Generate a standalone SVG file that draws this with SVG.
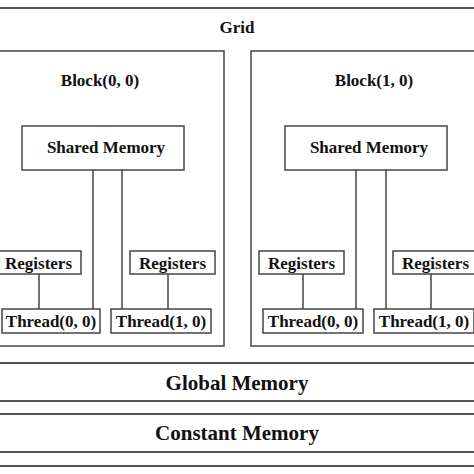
<svg xmlns="http://www.w3.org/2000/svg" width="474" height="474" viewBox="0 0 474 474">
<style>
.bx{fill:#fff;stroke:#444;stroke-width:1.5}
.band{fill:#fff;stroke:#555;stroke-width:2}
.ln{stroke:#444;stroke-width:1.5;fill:none}
text{font-family:"Liberation Serif","Times New Roman",serif;font-weight:bold;fill:#111;text-anchor:middle}
.s{font-size:17px}
.l{font-size:21px}
</style>
<rect width="474" height="474" fill="#fff"/>
<g id="grid"><rect class="band" x="-5" y="8" width="484" height="500"/><text class="s" x="237" y="33">Grid</text></g>
<g id="block00"><rect class="bx" x="-5" y="51" width="229" height="295"/><text class="s" x="100" y="86">Block(0, 0)</text></g>
<g id="block10"><rect class="bx" x="251" y="51" width="228" height="295"/><text class="s" x="374" y="86">Block(1, 0)</text></g>
<g id="connectors">
<line class="ln" x1="93" y1="170" x2="93" y2="309"/>
<line class="ln" x1="122" y1="170" x2="122" y2="309"/>
<line class="ln" x1="39" y1="274" x2="39" y2="309"/>
<line class="ln" x1="168" y1="274" x2="168" y2="309"/>
<line class="ln" x1="356" y1="170" x2="356" y2="309"/>
<line class="ln" x1="386" y1="170" x2="386" y2="309"/>
<line class="ln" x1="303" y1="274" x2="303" y2="309"/>
<line class="ln" x1="431" y1="274" x2="431" y2="309"/>
</g>
<g id="shared0"><rect class="bx" x="22" y="126" width="162" height="44"/><text class="s" x="106" y="153">Shared Memory</text></g>
<g id="shared1"><rect class="bx" x="285" y="126" width="162" height="44"/><text class="s" x="369" y="153">Shared Memory</text></g>
<g id="reg00"><rect class="bx" x="-4" y="251" width="85" height="23"/><text class="s" x="38.5" y="269">Registers</text></g>
<g id="reg01"><rect class="bx" x="130" y="251" width="85" height="23"/><text class="s" x="172.5" y="269">Registers</text></g>
<g id="reg10"><rect class="bx" x="259" y="251" width="85" height="23"/><text class="s" x="301.5" y="269">Registers</text></g>
<g id="reg11"><rect class="bx" x="393" y="251" width="85" height="23"/><text class="s" x="435.5" y="269">Registers</text></g>
<g id="th00"><rect class="bx" x="2" y="309" width="98" height="24"/><text class="s" x="51" y="327">Thread(0, 0)</text></g>
<g id="th01"><rect class="bx" x="111" y="309" width="100" height="24"/><text class="s" x="161" y="327">Thread(1, 0)</text></g>
<g id="th10"><rect class="bx" x="263" y="309" width="100" height="24"/><text class="s" x="313" y="327">Thread(0, 0)</text></g>
<g id="th11"><rect class="bx" x="374" y="309" width="100" height="24"/><text class="s" x="424" y="327">Thread(1, 0)</text></g>
<g id="global"><rect class="band" x="-5" y="363" width="484" height="38"/><text class="l" x="237" y="390">Global Memory</text></g>
<g id="constant"><rect class="band" x="-5" y="414" width="484" height="38"/><text class="l" x="237" y="440">Constant Memory</text></g>
<g id="next"><rect class="band" x="-5" y="466" width="484" height="30"/></g>
</svg>
